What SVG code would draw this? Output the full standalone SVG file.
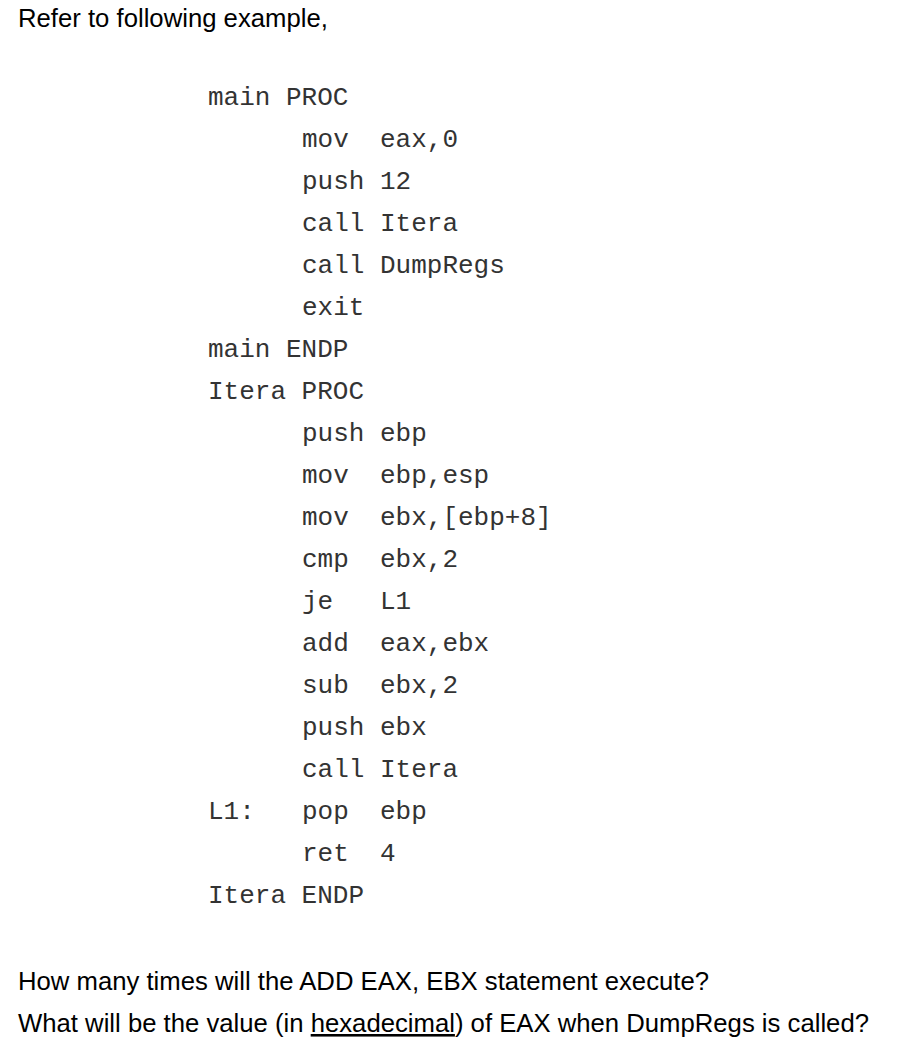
<svg xmlns="http://www.w3.org/2000/svg" width="908" height="1050" viewBox="0 0 908 1050">
<style>
.t{font-family:"Liberation Sans",Arial,sans-serif;font-size:25.7px;fill:#000}
.c{font-family:"Liberation Mono","Courier New",monospace;font-size:26px;fill:#333}
</style>
<rect width="908" height="1050" fill="#fff"/>
<text class="t" x="18" y="27">Refer to following example,</text>
<g class="c">
<text x="208" y="105">main PROC</text>
<text x="302" y="147">mov</text><text x="380" y="147">eax,0</text>
<text x="302" y="189">push</text><text x="380" y="189">12</text>
<text x="302" y="231">call</text><text x="380" y="231">Itera</text>
<text x="302" y="273">call</text><text x="380" y="273">DumpRegs</text>
<text x="302" y="315">exit</text>
<text x="208" y="357">main ENDP</text>
<text x="208" y="399">Itera PROC</text>
<text x="302" y="441">push</text><text x="380" y="441">ebp</text>
<text x="302" y="483">mov</text><text x="380" y="483">ebp,esp</text>
<text x="302" y="525">mov</text><text x="380" y="525">ebx,[ebp+8]</text>
<text x="302" y="567">cmp</text><text x="380" y="567">ebx,2</text>
<text x="302" y="609">je</text><text x="380" y="609">L1</text>
<text x="302" y="651">add</text><text x="380" y="651">eax,ebx</text>
<text x="302" y="693">sub</text><text x="380" y="693">ebx,2</text>
<text x="302" y="735">push</text><text x="380" y="735">ebx</text>
<text x="302" y="777">call</text><text x="380" y="777">Itera</text>
<text x="208" y="819">L1:</text><text x="302" y="819">pop</text><text x="380" y="819">ebp</text>
<text x="302" y="861">ret</text><text x="380" y="861">4</text>
<text x="208" y="903">Itera ENDP</text>
</g>
<text class="t" x="18" y="990">How many times will the ADD EAX, EBX statement execute?</text>
<text class="t" x="18" y="1032">What will be the value (in <tspan text-decoration="underline">hexadecimal</tspan>) of EAX when DumpRegs is called?</text>
</svg>
